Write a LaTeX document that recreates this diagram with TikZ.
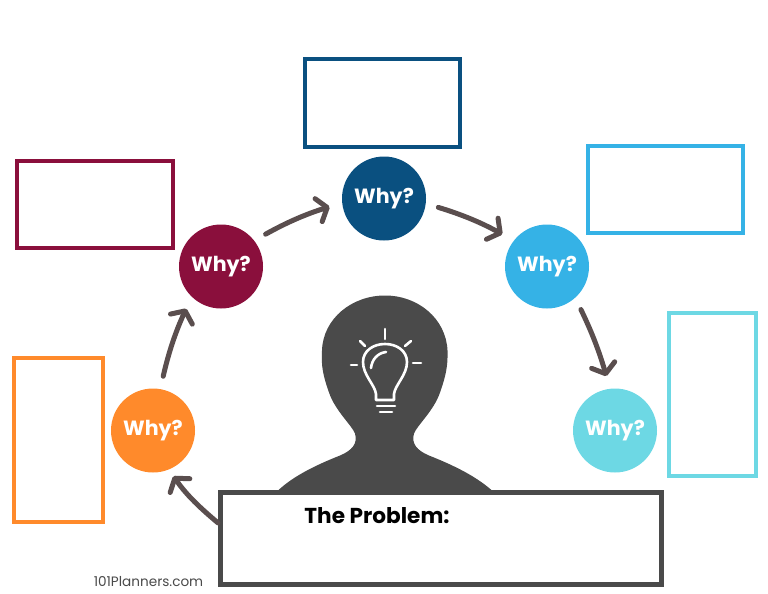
\documentclass[tikz,border=0pt]{standalone}
\usepackage{fontspec}
\setmainfont{Poppins}
\usetikzlibrary{arrows.meta}
\definecolor{whyorange}{HTML}{FF8A2B}
\definecolor{whymaroon}{HTML}{8A0F3C}
\definecolor{whyblue}{HTML}{0A5080}
\definecolor{whysky}{HTML}{35B2E6}
\definecolor{whycyan}{HTML}{6DD8E4}
\definecolor{headgrey}{HTML}{4A4A4A}
\definecolor{arrowgrey}{HTML}{5A4E4E}
\newcommand{\whytext}{\raisebox{-2pt}{Why?}}
\tikzset{
  why/.style={circle,fill=#1,minimum size=84pt,inner sep=0pt,text=white,font=\fontsize{20.6}{24}\selectfont\bfseries},
  answer/.style={draw=#1,line width=4pt,fill=white,inner sep=0pt},
  flow/.style={draw=arrowgrey,line width=5pt,line cap=round,-{Straight Barb[length=9pt,width=24pt,round]},shorten >=13pt,shorten <=13pt},
  bulb/.style={draw=white,line width=2.6pt,line cap=round,line join=round}
}

\begin{document}
\begin{tikzpicture}[x=1pt,y=1pt]
\useasboundingbox (0,-594) rectangle (768,0);
\fill [headgrey] (278,-490.5) .. controls (295,-474.5) and (320,-463.5) .. (340,-455.5) .. controls (352,-450.5) and (358,-443.5) .. (355,-433.5) .. controls (352,-425.5) and (335,-410.5) .. (329,-392.5) .. controls (323,-375.5) and (321,-365.5) .. (322,-350.5) .. controls (323,-318.5) and (352,-295.5) .. (385,-295.5) .. controls (418,-295.5) and (446,-318.5) .. (447.5,-350.5) .. controls (448,-365.5) and (446,-375.5) .. (440,-392.5) .. controls (434,-410.5) and (417,-425.5) .. (414,-433.5) .. controls (411,-443.5) and (417,-450.5) .. (429,-455.5) .. controls (449,-463.5) and (474,-474.5) .. (492,-490.5) -- cycle;
\draw [bulb] (376,-400) -- (376,-394) .. controls (375,-385) and (363,-375) .. (363,-362) .. controls (363,-351) and (373,-344) .. (385,-344) .. controls (397,-344) and (407,-351) .. (407,-362) .. controls (407,-375) and (395,-385) .. (394,-394) -- (394,-400) -- cycle;
\draw [bulb] (371,-368) .. controls (372,-359) and (378,-353) .. (386,-352);
\draw [bulb] (377,-406) -- (395,-406);
\draw [bulb] (380,-412) -- (392,-412);
\draw [bulb] (385,-329) -- (385,-339);
\draw [bulb] (360,-341) -- (365,-346);
\draw [bulb] (411,-341) -- (405,-346);
\draw [bulb] (351,-365) -- (357,-365);
\draw [bulb] (413,-363) -- (421,-363);
\node [why=whyorange] (orange) at (153,-430.5) {\whytext};
\node [why=whymaroon] (maroon) at (221,-266.5) {\whytext};
\node [why=whyblue] (blue) at (384,-198.5) {\whytext};
\node [why=whysky] (sky) at (547,-266.5) {\whytext};
\node [why=whycyan] (cyan) at (615,-430.5) {\whytext};
\node [answer=whyorange,minimum width=89pt,minimum height=164pt] (orangebox) at (58.5,-440) {};
\node [answer=whymaroon,minimum width=156pt,minimum height=87pt] (maroonbox) at (95,-204.5) {};
\node [answer=whyblue,minimum width=155pt,minimum height=87pt] (bluebox) at (382.5,-103) {};
\node [answer=whysky,minimum width=155pt,minimum height=87pt] (skybox) at (665.5,-189.5) {};
\node [answer=whycyan,minimum width=87pt,minimum height=163pt] (cyanbox) at (712.5,-394.5) {};
\node [answer=headgrey,line width=5pt,minimum width=441pt,minimum height=92pt] (problem) at (441,-538.5) {};
\node [font=\fontsize{21.6}{25}\selectfont\bfseries] (title) at (377,-516) {The Problem:};
\node [font=\fontsize{13.6}{16}\selectfont,text=headgrey] (site) at (148.5,-581.5) {101Planners.com};
\draw [flow] (orange.80) to[bend left=6] (maroon.226);
\draw [flow] (maroon.38) to[bend left=6] (blue.186);
\draw [flow] (blue.-7.5) to[bend left=6] (sky.142);
\draw [flow] (sky.-48) to[bend left=5] (cyan.97);
\draw [flow,shorten <=0pt,shorten >=8pt] (problem.176.8) to[out=140,in=-55] (orange.-68.6);
\end{tikzpicture}
\end{document}
